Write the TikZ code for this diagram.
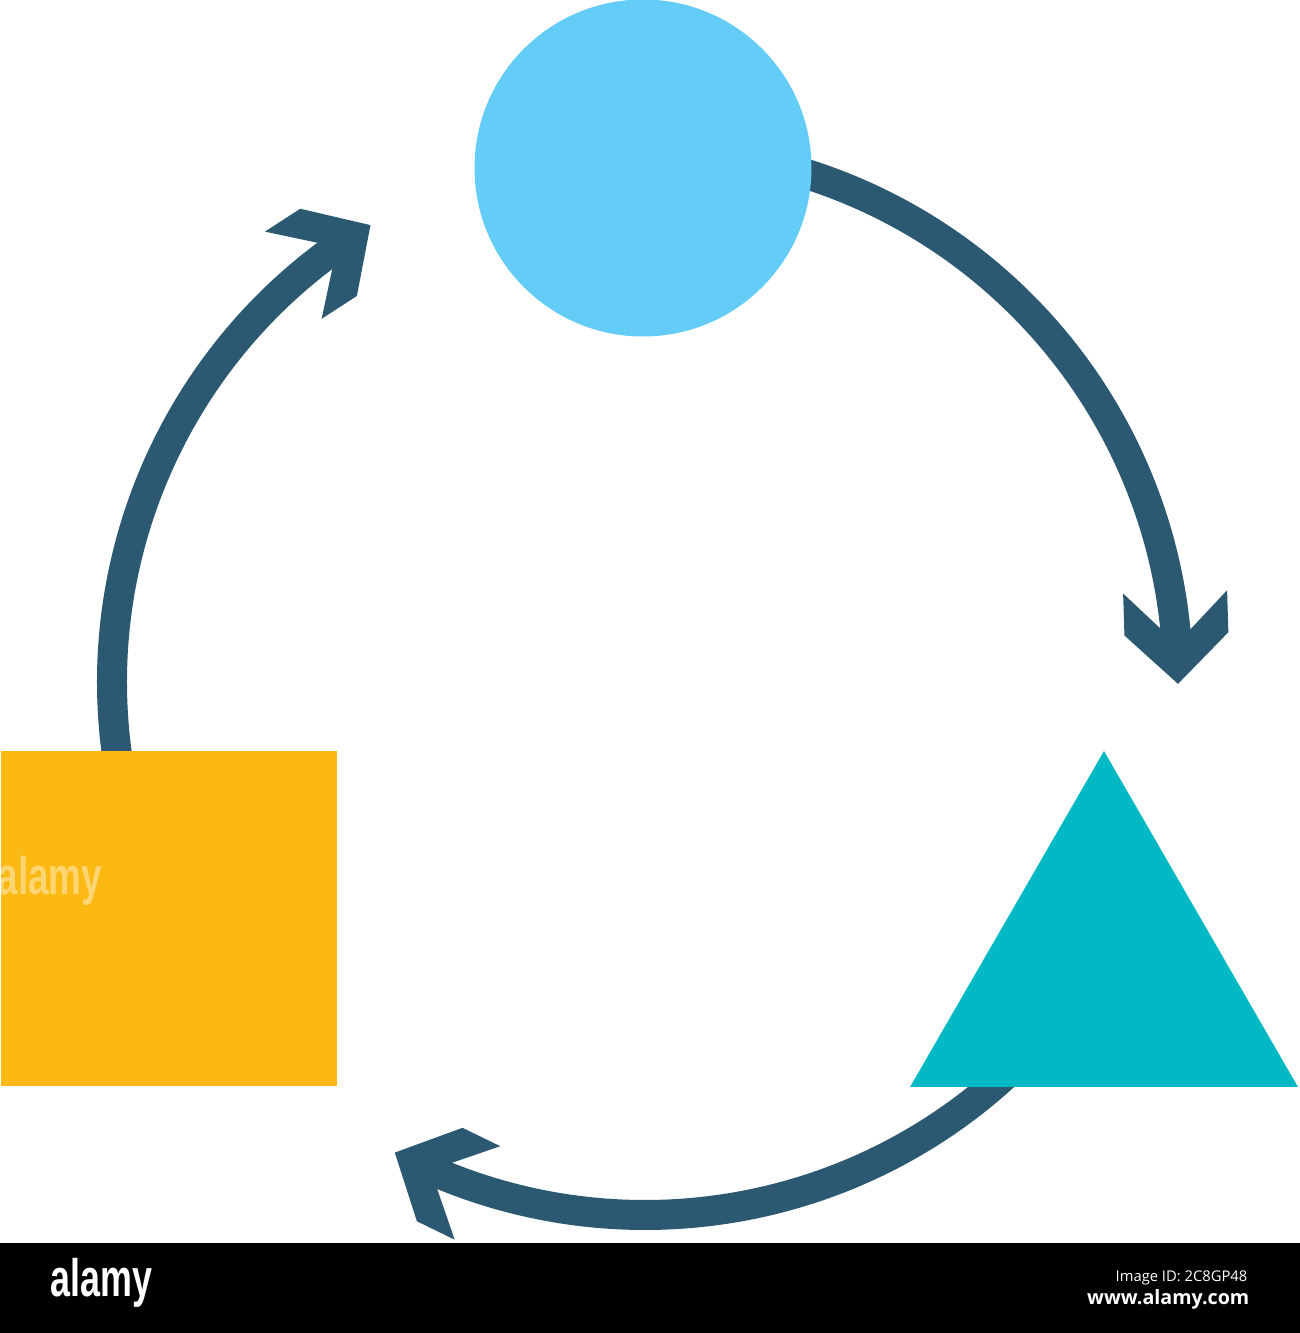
\documentclass[tikz,border=0pt]{standalone}
\usepackage{fontspec}
\setmainfont{Open Sans}
\newfontfamily\logofont{Liberation Sans}
\usetikzlibrary{shapes.geometric}
\definecolor{flowblue}{HTML}{2C5972}
\definecolor{skyblue}{HTML}{64CDF7}
\definecolor{tealtri}{HTML}{00B9C4}
\definecolor{amber}{HTML}{FCB914}
\begin{document}
\begin{tikzpicture}
    [flow/.style={draw=flowblue, line width=3mm},
     chevron/.pic={\fill[flowblue] (0,0) -- (-0.5,0.52) -- (-0.92,0.52) -- (-0.4,0)
       -- (-0.92,-0.52) -- (-0.5,-0.52) -- cycle;},
     logo/.style={font=\logofont\bfseries\fontsize{15}{15}\selectfont,
       inner sep=0pt, anchor=base west}]
    \def \radius {5.33cm}
    \useasboundingbox (0,0) rectangle (13,13.33);
    \coordinate (ctr) at (6.45,6.51);

    % the three arcs, start angle / tip angle
    \begin{scope}[shift={(ctr)}]
    \foreach \a/\t in {78/-0.2, 188/121, -45/-118}
    {
      \draw[flow] (\a:\radius) arc[start angle=\a, end angle=\t+3.5, radius=\radius];
      \pic[rotate=\t-88] at (\t:\radius) {chevron};
    }
    \end{scope}

    \node[circle, fill=skyblue, minimum size=3.37cm, inner sep=0pt] (circ) at (6.43,11.65) {};
    \node[fill=amber, minimum width=3.36cm, minimum height=3.35cm, inner sep=0pt,
      anchor=south west] (sq) at (0,2.46) {};
    \node[regular polygon, regular polygon sides=3, fill=tealtri, minimum size=4.48cm,
      inner sep=0pt] (tri) at (11.04,3.58) {};
    \node[logo, text=white, text opacity=0.4] (mark) at (-0.03,4.38) {\scalebox{0.7}[1]{alamy}};

    % bottom bar
    \fill[black] (0,0) rectangle (13,0.9);
    \node[logo, text=white] (logo) at (0.5,0.36) {\scalebox{0.68}[1]{alamy}};
    \node[anchor=base east, text=white, inner sep=0pt, font=\fontsize{4.2}{5}\selectfont]
      (imgid) at (12.48,0.52) {Image ID: 2C8GP48};
    \node[anchor=base east, text=white, inner sep=0pt, font=\bfseries\fontsize{5.6}{6}\selectfont]
      (site) at (12.5,0.29) {www.alamy.com};
  \end{tikzpicture}
\end{document}
